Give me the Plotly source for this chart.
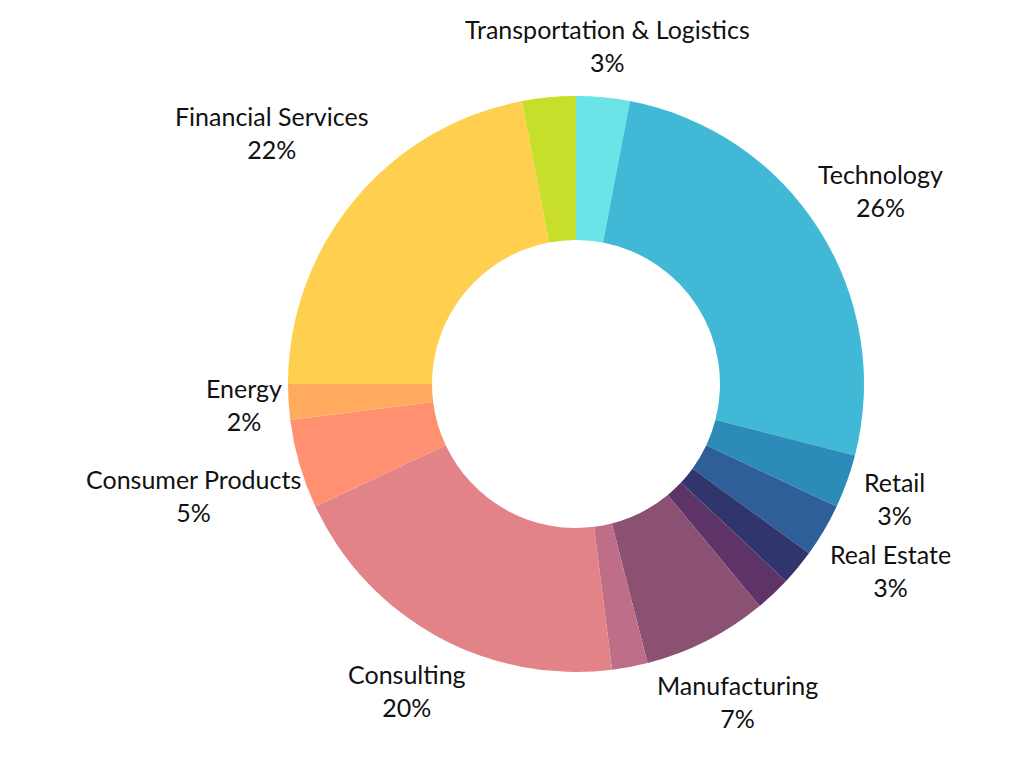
import math
import plotly.graph_objects as go

industries = [
    "Transportation & Logistics", "Technology", "Retail", "Real Estate",
    "Telecommunications", "Media", "Manufacturing", "Healthcare",
    "Consulting", "Consumer Products", "Energy", "Financial Services", "Education",
]
shares = [3, 26, 3, 3, 2, 2, 7, 2, 20, 5, 2, 22, 3]
show_label = [True, True, True, True, False, False, True, False, True, True, True, True, False]
colors = [
    "#6BE4E8", "#41B8D5", "#2D8BBA", "#2F5F98", "#31356E", "#5E3468",
    "#8A5173", "#BE6E87", "#E18387", "#FF9071", "#FFAA5E", "#FFD04F", "#C7DE2A",
]

W, H = 1024, 768
DOM_X = [0.125, 1.0]
DOM_Y = [0.125, 0.875]
FONT_SIZE = 25

fig = go.Figure(go.Pie(
    labels=industries,
    values=shares,
    hole=0.5,
    sort=False,
    direction="clockwise",
    rotation=0,
    marker=dict(colors=colors, line=dict(width=0)),
    textinfo="none",
    hoverinfo="label+percent",
    showlegend=False,
    domain=dict(x=DOM_X, y=DOM_Y),
))

# Label placement derived from the pie geometry (radial at each slice's mid-angle)
cx = (DOM_X[0] + DOM_X[1]) / 2 * W
cy = (1 - (DOM_Y[0] + DOM_Y[1]) / 2) * H
R = min((DOM_X[1] - DOM_X[0]) * W, (DOM_Y[1] - DOM_Y[0]) * H) / 2
gap = 8
char_w = 0.46 * FONT_SIZE
half_h = 30

total = sum(shares)
cum = 0
annotations = []
for name, val, show in zip(industries, shares, show_label):
    theta = math.radians((cum + val / 2) / total * 360)
    cum += val
    if not show:
        continue
    half_w = 0.5 * len(name) * char_w
    dist = R + gap + abs(math.sin(theta)) * half_w + abs(math.cos(theta)) * half_h
    px = cx + dist * math.sin(theta)
    py = cy - dist * math.cos(theta)
    annotations.append(dict(
        x=px / W, y=1 - py / H, xref="paper", yref="paper",
        text=f"{name}<br>{val}%", showarrow=False,
        xanchor="center", yanchor="middle", align="center",
        font=dict(family="Lato", size=FONT_SIZE, color="#111111"),
    ))

fig.update_layout(
    width=W, height=H,
    margin=dict(l=0, r=0, t=0, b=0),
    paper_bgcolor="white",
    plot_bgcolor="white",
    annotations=annotations,
)

fig.write_html("out.html")
